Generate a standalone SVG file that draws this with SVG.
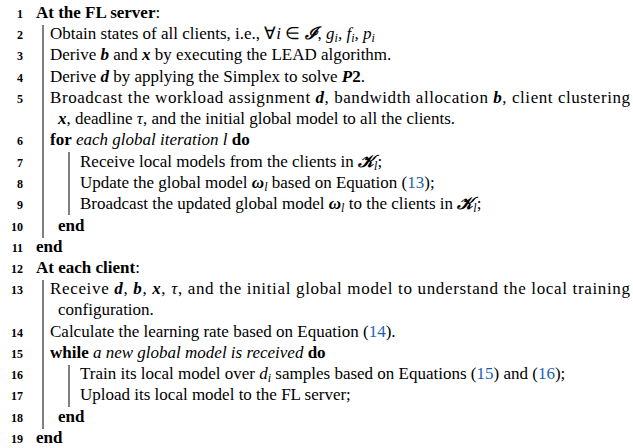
<svg xmlns="http://www.w3.org/2000/svg" width="633" height="448" viewBox="0 0 633 448">
<style>
text{font-family:"Liberation Serif",serif;font-size:17px;fill:#000}
.n{font-size:12px;font-weight:bold;text-anchor:end}
.b{font-weight:bold}.i{font-style:italic}.bi{font-weight:bold;font-style:italic}
.s{font-size:12px}
.l{fill:#1a5fb4}
line{stroke:#000;stroke-width:1}
</style>
<rect width="633" height="448" fill="#fff"/>
<g id="numbers">
<text class="n" x="23" y="18">1</text><text class="n" x="23" y="39">2</text><text class="n" x="23" y="60">3</text><text class="n" x="23" y="82">4</text><text class="n" x="23" y="103">5</text><text class="n" x="23" y="145">6</text><text class="n" x="23" y="167">7</text><text class="n" x="23" y="188">8</text><text class="n" x="23" y="209">9</text><text class="n" x="23" y="231">10</text><text class="n" x="23" y="252">11</text><text class="n" x="23" y="273">12</text><text class="n" x="23" y="294">13</text><text class="n" x="23" y="337">14</text><text class="n" x="23" y="358">15</text><text class="n" x="23" y="379">16</text><text class="n" x="23" y="400">17</text><text class="n" x="23" y="422">18</text><text class="n" x="23" y="443">19</text>
</g>
<g id="bars">
<line x1="43" y1="25" x2="43" y2="238"/>
<line x1="69" y1="152" x2="69" y2="215"/>
<line x1="43" y1="280" x2="43" y2="429"/>
<line x1="69" y1="365" x2="69" y2="407"/>
</g>
<g id="lines">
<text x="36" y="18"><tspan class="b">At the FL server</tspan>:</text>
<text x="50" y="39">Obtain states of all clients, i.e., ∀<tspan class="i">i</tspan> ∈ <tspan class="bi">ℐ</tspan>, <tspan class="i">g<tspan class="s" dy="3">i</tspan><tspan dy="-3">, f</tspan><tspan class="s" dy="3">i</tspan><tspan dy="-3">, p</tspan><tspan class="s" dy="3">i</tspan></tspan></text>
<text x="50" y="60">Derive <tspan class="bi">b</tspan> and <tspan class="bi">x</tspan> by executing the LEAD algorithm.</text>
<text x="50" y="82">Derive <tspan class="bi">d</tspan> by applying the Simplex to solve <tspan class="bi">P</tspan><tspan class="b">2</tspan>.</text>
<text x="50" y="103" textLength="580" lengthAdjust="spacing">Broadcast the workload assignment <tspan class="bi">d</tspan>, bandwidth allocation <tspan class="bi">b</tspan>, client clustering</text>
<text x="58" y="124"><tspan class="bi">x</tspan>, deadline <tspan class="i">τ</tspan>, and the initial global model to all the clients.</text>
<text x="50" y="145"><tspan class="b">for</tspan> <tspan class="i">each global iteration l</tspan> <tspan class="b">do</tspan></text>
<text x="80" y="167">Receive local models from the clients in <tspan class="bi">𝒦</tspan><tspan class="i s" dy="3">l</tspan><tspan dy="-3">;</tspan></text>
<text x="80" y="188">Update the global model <tspan class="bi">ω</tspan><tspan class="i s" dy="3">l</tspan><tspan dy="-3"> based on Equation (</tspan><tspan class="l">13</tspan>);</text>
<text x="80" y="209">Broadcast the updated global model <tspan class="bi">ω</tspan><tspan class="i s" dy="3">l</tspan><tspan dy="-3"> to the clients in </tspan><tspan class="bi">𝒦</tspan><tspan class="i s" dy="3">l</tspan><tspan dy="-3">;</tspan></text>
<text x="58" y="231" class="b">end</text>
<text x="36" y="252" class="b">end</text>
<text x="36" y="273"><tspan class="b">At each client</tspan>:</text>
<text x="50" y="294" textLength="580" lengthAdjust="spacing">Receive <tspan class="bi">d</tspan>, <tspan class="bi">b</tspan>, <tspan class="bi">x</tspan>, <tspan class="i">τ</tspan>, and the initial global model to understand the local training</text>
<text x="58" y="315">configuration.</text>
<text x="50" y="337">Calculate the learning rate based on Equation (<tspan class="l">14</tspan>).</text>
<text x="50" y="358"><tspan class="b">while</tspan> <tspan class="i">a new global model is received</tspan> <tspan class="b">do</tspan></text>
<text x="80" y="379">Train its local model over <tspan class="i">d</tspan><tspan class="i s" dy="3">i</tspan><tspan dy="-3"> samples based on Equations (</tspan><tspan class="l">15</tspan>) and (<tspan class="l">16</tspan>);</text>
<text x="80" y="400">Upload its local model to the FL server;</text>
<text x="58" y="422" class="b">end</text>
<text x="36" y="443" class="b">end</text>
</g>
</svg>
